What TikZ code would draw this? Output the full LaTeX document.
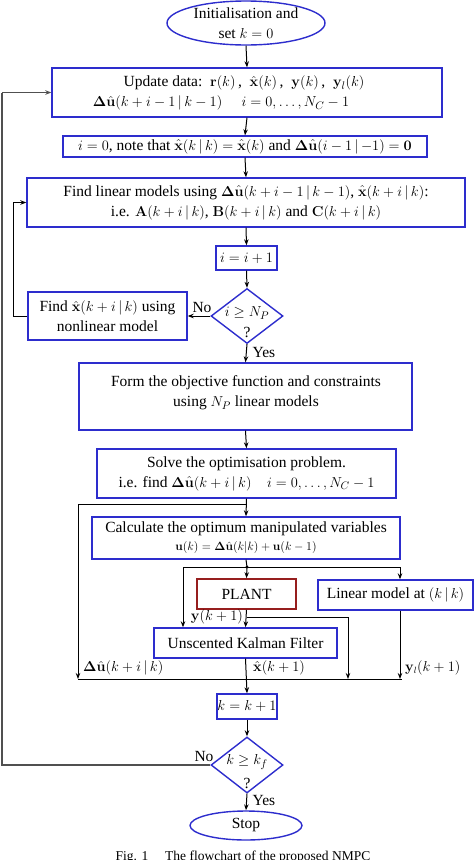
\documentclass[tikz,border=0pt]{standalone}
\usepackage{amsmath}
\usepackage{bm}
\usepackage[no-math]{fontspec}
\setmainfont{Liberation Serif}
\usetikzlibrary{shapes.geometric,arrows.meta}
\definecolor{boxblue}{RGB}{45,45,205}
\definecolor{plantred}{RGB}{150,30,30}
\definecolor{loopgray}{RGB}{80,80,80}
\tikzset{
  base/.style={font=\fontsize{15.5}{20}\selectfont, inner sep=0pt, align=center},
  procbox/.style={base, draw=boxblue, line width=1.4pt, rectangle},
  plantbox/.style={base, draw=plantred, line width=1.6pt, rectangle},
  termin/.style={base, draw=boxblue, line width=1.4pt, ellipse},
  decide/.style={base, draw=boxblue, line width=1.4pt, diamond},
  txt/.style={base},
  lbl/.style={font=\fontsize{13.5}{16}\selectfont, inner sep=0pt},
  flow/.style={draw=black, line width=1pt, -{Stealth[length=6pt,width=4.5pt]}},
  plainline/.style={draw=black, line width=1pt},
  loopline/.style={draw=loopgray, line width=1.6pt},
  looparrow/.style={draw=loopgray, line width=1.2pt, -{Stealth[length=6pt,width=4.5pt]}},
}
\begin{document}
\begin{tikzpicture}[x=1pt,y=-1pt]
\useasboundingbox (0,0) rectangle (474,860);
% nodes
\node[termin, minimum width=158pt, minimum height=44pt] (start) at (246,23) {Initialisation and\\set $k=0$};
\node[procbox, minimum width=390pt, minimum height=49pt] (b1) at (247,92.5) {};
\node[txt] (b1a) at (244,83) {Update data:\ \ $\mathbf{r}(k)$\,,\ \ $\hat{\mathbf{x}}(k)$\,,\ \ $\mathbf{y}(k)$\,,\ \ $\mathbf{y}_l(k)$};
\node[txt] (b1b) at (221,103) {$\bm{\Delta}\hat{\mathbf{u}}(k+i-1\,|\,k-1)\quad\ i=0,\ldots,N_C-1$};
\node[procbox, minimum width=364pt, minimum height=21pt] (b2) at (245,146.5)
  {$i=0$, note that $\hat{\mathbf{x}}(k\,|\,k)=\hat{\mathbf{x}}(k)$ and $\bm{\Delta}\hat{\mathbf{u}}(i-1\,|\,{-1})=\mathbf{0}$};
\node[procbox, minimum width=438pt, minimum height=49pt] (b3) at (246,202.5)
  {Find linear models using $\bm{\Delta}\hat{\mathbf{u}}(k+i-1\,|\,k-1)$, $\hat{\mathbf{x}}(k+i\,|\,k)$:\\
   i.e. $\mathbf{A}(k+i\,|\,k)$, $\mathbf{B}(k+i\,|\,k)$ and $\mathbf{C}(k+i\,|\,k)$};
\node[procbox, minimum width=61pt, minimum height=24pt] (b4) at (246.5,258) {$i=i+1$};
\node[decide, minimum width=72pt, minimum height=55pt] (d1) at (247,316) {};
\node[txt] (d1t) at (247,313) {$i\ge N_P$};
\node[txt] (d1q) at (247,332) {?};
\node[procbox, minimum width=159pt, minimum height=48pt] (b5) at (107.5,316)
  {Find $\hat{\mathbf{x}}(k+i\,|\,k)$ using\\nonlinear model};
\node[procbox, minimum width=333pt, minimum height=67pt] (b6) at (245.5,396.5) {};
\node[txt] (b6t) at (246,393) {Form the objective function and constraints\\using $N_P$ linear models};
\node[procbox, minimum width=299pt, minimum height=49pt] (b7) at (246.5,473.5)
  {Solve the optimisation problem.\\i.e. find $\bm{\Delta}\hat{\mathbf{u}}(k+i\,|\,k)\quad i=0,\ldots,N_C-1$};
\node[procbox, minimum width=308pt, minimum height=42pt] (b8) at (246,538)
  {Calculate the optimum manipulated variables\\[-2pt]
   {\fontsize{12.5}{14}\selectfont $\mathbf{u}(k)=\bm{\Delta}\hat{\mathbf{u}}(k|k)+\mathbf{u}(k-1)$}};
\node[plantbox, minimum width=99pt, minimum height=30pt] (plant) at (246.5,594) {PLANT};
\node[procbox, minimum width=155pt, minimum height=30pt] (lin) at (395.5,595) {Linear model at $(k\,|\,k)$};
\node[procbox, minimum width=183pt, minimum height=30pt] (ukf) at (245.5,643) {Unscented Kalman Filter};
\node[procbox, minimum width=60pt, minimum height=25pt] (b9) at (247,706.5) {$k=k+1$};
\node[decide, minimum width=72pt, minimum height=56pt] (d2) at (247,765) {};
\node[txt] (d2t) at (247,762) {$k\ge k_f$};
\node[txt] (d2q) at (247,783) {?};
\node[termin, minimum width=112pt, minimum height=29pt] (stop) at (246,825.5) {Stop};
% coordinates
\coordinate (j1) at (247,504);
\coordinate (j1l) at (78,504);
\coordinate (c78) at (78,679);
\coordinate (cR) at (402,679);
\coordinate (j2) at (247,567);
\coordinate (j2l) at (183,567);
\coordinate (j2r) at (400,567);
\coordinate (j3) at (247,617);
\coordinate (j3r) at (348,617);
\coordinate (c348) at (348,679);
\coordinate (c400) at (400,679);
\coordinate (l5a) at (13,316);
\coordinate (l5b) at (13,202.5);
\coordinate (l9a) at (2,765);
\coordinate (l9b) at (2,92.5);
% connectors
\draw[flow] (start.south) -- (b1.north);
\draw[flow] (b1.south) -- (b2.north);
\draw[flow] (b2.south) -- (b3.north);
\draw[flow] (b3.south) -- (b4.north);
\draw[flow] (b4.south) -- (d1.north);
\draw[flow] (d1.west) -- (b5.east);
\draw[flow] (b5.west) -- (l5a) -- (l5b) -- (b3.west);
\draw[flow] (d1.south) -- (b6.north);
\draw[flow] (b6.south) -- (b7.north);
\draw[flow] (b7.south) -- (b8.north);
\draw[flow] (j1) -- (j1l) -- (c78);
\draw[plainline] (b8.south) -- (j2);
\fill (j2) circle (1.6pt);
\draw[flow] (j2) -- (plant.north);
\draw[flow] (j2) -- (j2l) -- (j2l |- ukf.north);
\draw[flow] (j2) -- (j2r) -- (j2r |- lin.north);
\draw[flow] (plant.south) -- (ukf.north);
\draw[flow] (j3) -- (j3r) -- (c348);
\draw[flow] (j2r |- lin.south) -- (c400);
\draw[plainline] (c78) -- (cR);
\draw[flow] (ukf.south) -- (b9.north);
\draw[flow] (b9.south) -- (d2.north);
\draw[flow] (d2.south) -- (stop.north);
\draw[loopline] (d2.west) -- (l9a) -- (l9b);
\draw[looparrow] (l9b) -- (b1.west);
% labels
\node[txt] (no1) at (202,307) {No};
\node[txt] (yes1) at (264,352) {Yes};
\node[txt] (no2) at (204,756) {No};
\node[txt] (yes2) at (264,800) {Yes};
\node[lbl, anchor=east] (ly) at (243,617) {$\mathbf{y}(k+1)$};
\node[lbl, anchor=west] (ldu) at (83,668) {$\bm{\Delta}\hat{\mathbf{u}}(k+i\,|\,k)$};
\node[lbl, anchor=west] (lx) at (253,668) {$\hat{\mathbf{x}}(k+1)$};
\node[lbl, anchor=west] (lyl) at (405,668) {$\mathbf{y}_l(k+1)$};
\node[lbl] (cap) at (243,857) {Fig. 1\quad\ The flowchart of the proposed NMPC};
\end{tikzpicture}
\end{document}
